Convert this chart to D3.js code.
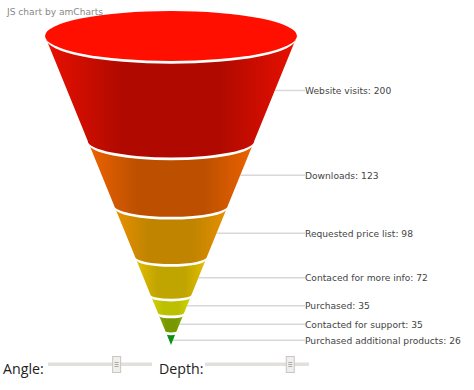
<!DOCTYPE html>
<html>
<head>
<meta charset="utf-8">
<script src="https://cdnjs.cloudflare.com/ajax/libs/d3/7.8.5/d3.min.js"></script>
<style>
html, body { margin: 0; padding: 0; background: #fff; overflow: hidden; }
</style>
</head>
<body>
<script>
const categories = ["Website visits", "Downloads", "Requested price list", "Contaced for more info", "Purchased", "Contacted for support", "Purchased additional products"];
const values = [200, 123, 98, 72, 35, 35, 26];
const colors = ["#ff0f00", "#ff6600", "#ff9e01", "#fcd202", "#d8dc00", "#8fb808", "#04a015"];
const edgeColors = ["#e81000", "#ec6200", "#e89000", "#e4bc00", "#d0d000", "#88a808", "#08a018"];
const darkColors = ["#b00a00", "#bc5000", "#c08400", "#c0a400", "#bcc000", "#789800", "#0c9014"];

const width = 474, height = 390;
const total = d3.sum(values);
const cumul = d3.cumsum(values);

const svg = d3.select("body").append("svg")
    .attr("width", width)
    .attr("height", height)
    .style("display", "block");

// centre line of the cone, top rim to apex
const y = d3.scaleLinear().domain([0, total]).range([36, 345]);
const rx = d3.scaleLinear().domain([0, total]).range([126, 0]);
const cx = 171, tilt = 25 / 126, gap = 3;

const radiusAtY = (py) => 126 * (345 - py) / 309;

const defs = svg.append("defs");
colors.forEach((c, i) => {
    const g = defs.append("linearGradient").attr("id", "grad_" + i);
    [[0, edgeColors[i]], [0.3, darkColors[i]], [0.7, darkColors[i]], [1, edgeColors[i]]].forEach(s => {
        g.append("stop").attr("offset", s[0]).attr("stop-color", s[1]);
    });
});

function slicePath(i) {
    const top = y(i === 0 ? 0 : cumul[i - 1]) + gap;
    const bot = y(cumul[i]);
    const r1 = radiusAtY(top), r2 = Math.max(radiusAtY(bot), 0.01);
    return "M" + (cx - r1) + "," + top +
        "A" + r1 + "," + (r1 * tilt) + " 0 0 0 " + (cx + r1) + "," + top +
        "L" + (cx + r2) + "," + bot +
        "A" + r2 + "," + (r2 * tilt) + " 0 0 1 " + (cx - r2) + "," + bot + "Z";
}

// leader lines first so the funnel sits over them
const midY = (i) => (y(i === 0 ? 0 : cumul[i - 1]) + y(cumul[i])) / 2 + 2;

svg.append("g").selectAll("line")
    .data(categories)
    .enter().append("line")
    .attr("x1", (d, i) => cx + radiusAtY(midY(i)))
    .attr("x2", 305)
    .attr("y1", (d, i) => midY(i))
    .attr("y2", (d, i) => midY(i))
    .style("stroke", "#d8d8d8")
    .style("stroke-width", 1.5);

svg.append("g").selectAll("path")
    .data(categories)
    .enter().append("path")
    .attr("d", (d, i) => slicePath(i))
    .style("fill", (d, i) => "url(#grad_" + i + ")");

// top opening of the funnel
svg.append("ellipse")
    .attr("cx", cx)
    .attr("cy", y(0))
    .attr("rx", rx(0))
    .attr("ry", rx(0) * tilt)
    .style("fill", colors[0]);

svg.append("g").selectAll("text")
    .data(categories)
    .enter().append("text")
    .attr("x", 305)
    .attr("y", (d, i) => midY(i) + 3.5)
    .style("font-family", "'DejaVu Sans', sans-serif")
    .style("font-size", "9.15px")
    .style("fill", "#444")
    .text((d, i) => d + ": " + values[i]);

svg.append("text")
    .attr("x", 7)
    .attr("y", 15)
    .style("font-family", "'DejaVu Sans', sans-serif")
    .style("font-size", "9.1px")
    .style("fill", "#888")
    .text("JS chart by amCharts");

// the two sliders under the chart
const sliderLabels = ["Angle:", "Depth:"];
const sliderLabelX = [3, 159];
const sliderStart = [48, 205];
const sliderThumb = [0.66, 0.82];
const sliderLen = 104;

sliderLabels.forEach((label, i) => {
    const s = d3.scaleLinear().domain([0, 1]).range([sliderStart[i], sliderStart[i] + sliderLen]);
    svg.append("text")
        .attr("x", sliderLabelX[i])
        .attr("y", 373.5)
        .style("font-family", "'Open Sans', sans-serif")
        .style("font-size", "14.2px")
        .style("fill", "#222")
        .text(label);
    svg.append("rect")
        .attr("x", s(0))
        .attr("y", 362.5)
        .attr("width", sliderLen)
        .attr("height", 3.5)
        .style("fill", "#e2e0dc");
    const t = s(sliderThumb[i]);
    svg.append("rect")
        .attr("x", t - 4)
        .attr("y", 356.5)
        .attr("width", 8)
        .attr("height", 16)
        .style("fill", "#f0efec")
        .style("stroke", "#c8c6c2");
    [-2, 0, 2].forEach(o => {
        svg.append("line")
            .attr("x1", t - 2)
            .attr("x2", t + 2)
            .attr("y1", 364.5 + o)
            .attr("y2", 364.5 + o)
            .style("stroke", "#aaa");
    });
});
</script>
</body>
</html>
